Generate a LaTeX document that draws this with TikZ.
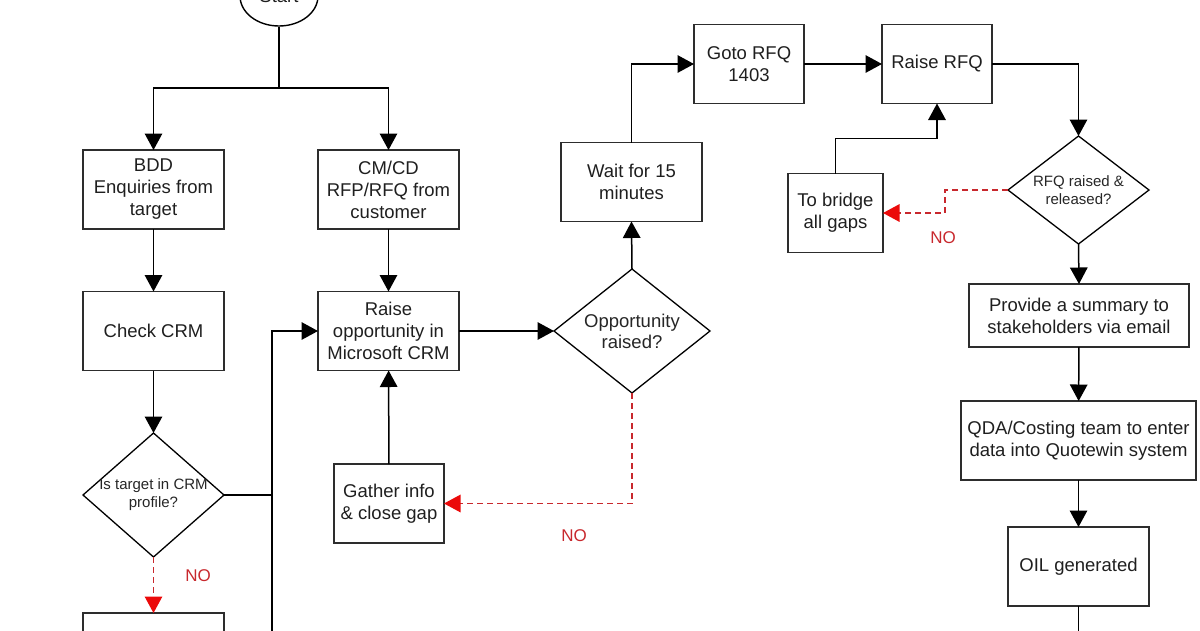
\documentclass[tikz,border=0pt]{standalone}
\usepackage{fontspec}
\setmainfont{Liberation Sans}
\usetikzlibrary{shapes.geometric,arrows.meta}
\definecolor{edge}{RGB}{45,45,45}
\definecolor{nored}{RGB}{200,40,45}
\definecolor{tipred}{RGB}{235,10,10}

\begin{document}
\begin{tikzpicture}[x=1pt,y=-1pt,
  every node/.style={font=\fontsize{18.5}{22}\selectfont, text=black!88},
  box/.style={draw=edge, line width=1.6pt, minimum width=141pt, minimum height=79pt,
    align=center, inner sep=2pt, outer sep=0pt},
  decide/.style={draw=black, line width=1.3pt, diamond, minimum width=141pt,
    minimum height=124pt, inner sep=0pt, outer sep=0pt},
  ask/.style={font=\fontsize{15}{18}\selectfont, align=center, text=black!85},
  flow/.style={line width=1.5pt, -{Triangle[length=16.5pt,width=17.5pt]}},
  no/.style={nored, line width=1.4pt, dash pattern=on 6pt off 4pt,
    -{Triangle[length=16.5pt,width=17.5pt,fill=tipred,color=tipred]}},
  nolabel/.style={text=nored, font=\fontsize{17}{20}\selectfont}]

  \useasboundingbox (0,0) rectangle (1200,630);
  \clip (0,0) rectangle (1200,630);

  \node[draw=black, line width=1.4pt, ellipse, minimum width=78pt, minimum height=60pt,
    inner sep=0pt] (start) at (279,-4) {Start};

  \node[box] (bdd)      at (153.5,189.5) {BDD\\Enquiries from\\target};
  \node[box] (cmcd)     at (388.5,189.5) {CM/CD\\RFP/RFQ from\\customer};
  \node[box] (check)    at (153.5,331)   {Check CRM};
  \node[decide, label={[ask]center:Is target in CRM\\profile?}] (incrm) at (153.5,495) {};
  \node[box] (nextstep) at (153.5,652.5) {};
  \node[box] (raiseopp) at (388.5,331)   {Raise\\opportunity in\\Microsoft CRM};
  \node[box, minimum width=110pt] (gather) at (389,503.5) {Gather info\\\& close gap};
  \node[decide, minimum width=156pt, label={[ask, font=\fontsize{18.5}{21}\selectfont]center:Opportunity\\raised?}] (oppraised) at (632,331) {};
  \node[box] (wait)     at (631.5,182)   {Wait for 15\\minutes};
  \node[box, minimum width=110pt] (gotorfq)  at (749,64)  {Goto RFQ\\1403};
  \node[box, minimum width=110pt] (raiserfq) at (937,64)  {Raise RFQ};
  \node[box, minimum width=95pt]  (bridge)   at (835.5,213) {To bridge\\all gaps};
  \node[decide, minimum height=108pt, label={[ask]center:RFQ raised \&\\released?}] (released) at (1078.5,190) {};
  \node[box, minimum width=220pt, minimum height=63pt] (summary) at (1079,315.5) {Provide a summary to\\stakeholders via email};
  \node[box, minimum width=235pt] (quotewin) at (1078.5,440.5) {QDA/Costing team to enter\\data into Quotewin system};
  \node[box] (oil)      at (1078.5,566.5) {OIL generated};

  \node[nolabel] (no1) at (198,576) {NO};
  \node[nolabel] (no2) at (574,536) {NO};
  \node[nolabel] (no3) at (943,238) {NO};

  \coordinate (split) at (279,88);
  \coordinate (merge) at (272,495);
  \coordinate (below) at (272,640);
  \coordinate (kink)  at (945,190);
  \coordinate (oilout) at (1078.5,640);

  \draw[line width=1.5pt] (start.south) -- (split);
  \draw[flow] (split) -| (bdd.north);
  \draw[flow] (split) -| (cmcd.north);
  \draw[flow] (bdd) -- (check);
  \draw[flow] (check) -- (incrm);
  \draw[no] (incrm.south) -- (nextstep.north);
  \draw[flow] (cmcd) -- (raiseopp);
  \draw[line width=1.5pt] (incrm.east) -- (merge);
  \draw[flow] (below) |- (raiseopp.west);
  \draw[flow] (gather) -- (raiseopp);
  \draw[flow] (raiseopp.east) -- (oppraised.west);
  \draw[no] (oppraised.south) |- (gather.east);
  \draw[flow] (oppraised.north) -- (wait.south);
  \draw[flow] (wait.north) |- (gotorfq.west);
  \draw[flow] (gotorfq) -- (raiserfq);
  \draw[flow] (raiserfq.east) -| (released.north);
  \draw[no] (released.west) -- (kink) |- (bridge.east);
  \draw[flow] (bridge.north) -- ++(0,-35) -| (raiserfq.south);
  \draw[flow] (released.south) -- (summary.north);
  \draw[flow] (summary) -- (quotewin);
  \draw[flow] (quotewin) -- (oil);
  \draw[line width=1.5pt] (oil.south) -- (oilout);
\end{tikzpicture}
\end{document}
